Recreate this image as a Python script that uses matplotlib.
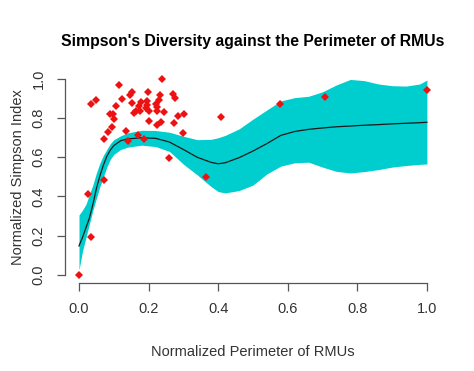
import numpy as np
import matplotlib.pyplot as plt

# observed points (normalized perimeter, normalized simpson index)
px = [0.115, 0.238, 0.034, 0.048, 0.124, 0.147, 0.153, 0.198, 0.234, 0.230,
      0.271, 0.276, 0.153, 0.178, 0.173, 0.196, 0.196, 0.220, 0.225, 0.105,
      0.164, 0.176, 0.158, 0.192, 0.202, 0.223, 0.243, 0.090, 0.097, 0.101,
      0.284, 0.303, 0.201, 0.236, 0.223, 0.274, 0.094, 0.084, 0.073, 0.136,
      0.170, 0.186, 0.141, 0.300, 0.408, 0.258, 0.366, 0.071, 0.027, 0.035,
      0.000, 0.577, 0.708, 1.000]
py = [0.969, 1.000, 0.874, 0.893, 0.899, 0.918, 0.935, 0.932, 0.917, 0.893,
      0.922, 0.901, 0.879, 0.881, 0.864, 0.889, 0.866, 0.871, 0.858, 0.862,
      0.838, 0.836, 0.825, 0.850, 0.838, 0.835, 0.833, 0.820, 0.820, 0.794,
      0.809, 0.820, 0.787, 0.779, 0.763, 0.775, 0.755, 0.729, 0.695, 0.736,
      0.712, 0.695, 0.685, 0.723, 0.807, 0.594, 0.501, 0.482, 0.412, 0.193,
      0.000, 0.874, 0.906, 0.944]

# fitted curve and band
fx = [0.00, 0.01, 0.02, 0.03, 0.04, 0.05, 0.06, 0.07, 0.08, 0.09, 0.10, 0.12,
      0.14, 0.18, 0.22, 0.26, 0.30, 0.34, 0.38, 0.40, 0.42, 0.46, 0.50, 0.54,
      0.58, 0.62, 0.66, 0.70, 0.74, 0.78, 0.82, 0.86, 0.90, 0.94, 0.98, 1.00]
fit = [0.147, 0.19, 0.24, 0.29, 0.36, 0.44, 0.505, 0.56, 0.605, 0.637, 0.660, 0.685,
       0.694, 0.700, 0.697, 0.678, 0.640, 0.600, 0.574, 0.567, 0.572, 0.598, 0.632, 0.670,
       0.712, 0.732, 0.743, 0.750, 0.756, 0.760, 0.764, 0.767, 0.771, 0.774, 0.777, 0.779]
upper = [0.305, 0.33, 0.36, 0.41, 0.46, 0.52, 0.57, 0.61, 0.64, 0.67, 0.69, 0.71,
         0.725, 0.738, 0.737, 0.728, 0.708, 0.690, 0.692, 0.700, 0.712, 0.745, 0.795, 0.842,
         0.888, 0.905, 0.912, 0.935, 0.970, 0.998, 0.992, 0.975, 0.966, 0.964, 0.975, 0.995]
lower = [0.024, 0.12, 0.19, 0.26, 0.33, 0.39, 0.45, 0.50, 0.55, 0.59, 0.615, 0.64,
         0.652, 0.662, 0.655, 0.630, 0.565, 0.510, 0.450, 0.425, 0.418, 0.430, 0.458, 0.515,
         0.555, 0.572, 0.575, 0.550, 0.528, 0.520, 0.527, 0.537, 0.550, 0.558, 0.564, 0.566]

plt.rcParams['font.family'] = ['Liberation Sans', 'DejaVu Sans']

fig = plt.figure(figsize=(4.74, 3.71), dpi=100)
ax = fig.add_axes([0.1373, 0.2385, 0.7927, 0.5695])

ax.fill_between(fx, lower, upper, color='#00CDCD', linewidth=0)
ax.plot(fx, fit, color='#1a1a1a', linewidth=0.9)
ax.plot(px, py, 'D', color='#ee1111', markersize=3.7, markeredgewidth=0)

ax.set_xlim(-0.04, 1.04)
ax.set_ylim(-0.04, 1.04)
ticks = [0.0, 0.2, 0.4, 0.6, 0.8, 1.0]
ax.set_xticks(ticks)
ax.set_yticks(ticks)
ax.set_xticklabels(['0.0', '0.2', '0.4', '0.6', '0.8', '1.0'])
ax.set_yticklabels(['0.0', '0.2', '0.4', '0.6', '0.8', '1.0'], rotation=90, va='center')

for s in ['top', 'right']:
    ax.spines[s].set_visible(False)
ax.spines['left'].set_bounds(0, 1)
ax.spines['bottom'].set_bounds(0, 1)
for s in ['left', 'bottom']:
    ax.spines[s].set_color('#555555')
    ax.spines[s].set_linewidth(0.9)
ax.tick_params(length=6, width=0.9, color='#555555', labelsize=10.5,
               labelcolor='#333333', pad=8)

ax.set_xlabel('Normalized Perimeter of RMUs', fontsize=10.5, color='#333333', labelpad=21)
ax.set_ylabel('Normalized Simpson Index', fontsize=10.5, color='#333333', labelpad=5)
ax.set_title("Simpson's Diversity against the Perimeter of RMUs",
             fontsize=11.3, fontweight='bold', pad=18)

fig.savefig('out.png', dpi=100)
